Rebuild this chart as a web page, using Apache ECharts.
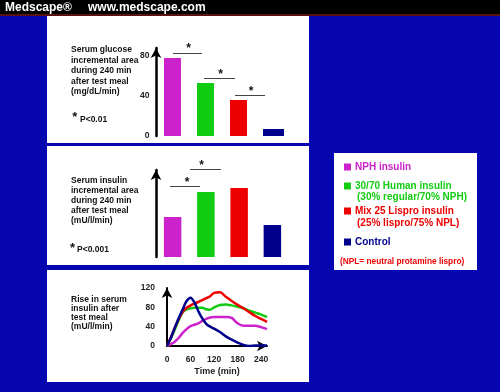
<!DOCTYPE html>
<html><head><meta charset="utf-8">
<script src="https://cdn.jsdelivr.net/npm/echarts@6/dist/echarts.min.js"></script>
<style>html,body{margin:0;padding:0;background:#0606b0}#c{width:500px;height:392px}</style>
</head><body><div id="c"></div>
<script>
// ---- data ----
const treatments = ['NPH insulin', '30/70 Human insulin', 'Mix 25 Lispro insulin', 'Control'];
const treatmentNotes = ['', '(30% regular/70% NPH)', '(25% lispro/75% NPL)', ''];
const colors = ['#cc22cc', '#11cc11', '#ee0000', '#00008c'];
const glucoseArea = [78, 53, 36, 7];     // mg/dL/min (panel 1)
const insulinArea = [40, 65, 69, 32];    // mU/l/min (panel 2, relative)
const glucoseTicks = [0, 40, 80];
const timeMin = [0, 10, 20, 30, 40, 50, 60, 70, 80, 90, 100, 110, 120, 135, 150, 165, 180, 195, 210, 225, 240, 255];
const timeTicks = [0, 60, 120, 180, 240];
const riseNPH     = [0, 4, 9, 17, 27, 35, 41, 44, 47, 52, 56, 59, 60, 60, 60, 58, 47, 42, 42, 42, 39, 35];
const riseHuman   = [0, 16, 34, 54, 70, 76, 78, 79, 79, 79, 76, 75, 80, 85, 86, 84, 81, 78, 73, 69, 65, 60];
const riseLispro  = [0, 18, 38, 56, 71, 79, 84, 88, 91, 95, 99, 103, 110, 111, 102, 93, 85, 78, 70, 62, 56, 50];
const riseControl = [0, 17, 38, 58, 76, 93, 100, 90, 72, 57, 46, 40, 36, 29, 20, 13, 7, 2, 0, 1, 1, 1];
const riseTicks = [0, 40, 80, 120];

// ---- chart ----
const FONT = '"Liberation Sans", Arial, sans-serif';
const chart = echarts.init(document.getElementById('c'), null, {renderer: 'canvas'});

function txt(text, x, y, size, color, align, extra) {
  return Object.assign({type: 'text', z: 50, style: {text: text, x: x, y: y, fill: color || '#111',
    font: 'bold ' + size + 'px ' + FONT, textAlign: align || 'left', textVerticalAlign: 'middle'}}, extra || {});
}
function line(x1, y1, x2, y2) {
  return {type: 'line', z: 50, shape: {x1: x1, y1: y1, x2: x2, y2: y2}, style: {stroke: '#444', lineWidth: 1}};
}
const g = [];
// header
g.push({type: 'rect', z: -10, shape: {x: 0, y: 0, width: 500, height: 14}, style: {fill: '#000'}});
g.push({type: 'rect', z: -10, shape: {x: 0, y: 14, width: 500, height: 2}, style: {fill: '#5a1212'}});
g.push(txt('Medscape\u00AE', 5, 7.5, 12, '#fff'));
g.push(txt('www.medscape.com', 88, 7.5, 12, '#fff'));
// panels
[[47, 16, 262, 127], [47, 146, 262, 119], [47, 270, 262, 112], [334, 153, 143, 117]].forEach(function (r) {
  g.push({type: 'rect', z: -10, shape: {x: r[0], y: r[1], width: r[2], height: r[3]}, style: {fill: '#fff'}});
});
// panel 1 text
['Serum glucose', 'incremental area', 'during 240 min', 'after test meal', '(mg/dL/min)'].forEach(function (s, i) {
  g.push(txt(s, 71, 50 + i * 10.4, 8.5));
});
g.push(txt('*', 74.7, 117.5, 13, '#111', 'center'));
g.push(txt('P<0.01', 80, 119.3, 8.5));
// panel 1 significance
g.push(line(173, 53.5, 202, 53.5)); g.push(txt('*', 188.7, 49, 12, '#111', 'center'));
g.push(line(204, 78.5, 235, 78.5)); g.push(txt('*', 220.5, 74.7, 12, '#111', 'center'));
g.push(line(235, 95.5, 265, 95.5)); g.push(txt('*', 251, 91.3, 12, '#111', 'center'));
// panel 2 text
['Serum insulin', 'incremental area', 'during 240 min', 'after test meal', '(mU/l/min)'].forEach(function (s, i) {
  g.push(txt(s, 71, 180.7 + i * 10.1, 8.5));
});
g.push(txt('*', 72.5, 248, 13, '#111', 'center'));
g.push(txt('P<0.001', 77, 249.5, 8.5));
g.push(line(170, 186.5, 200, 186.5)); g.push(txt('*', 187.2, 182.5, 12, '#111', 'center'));
g.push(line(190, 169.5, 221, 169.5)); g.push(txt('*', 201.7, 166, 12, '#111', 'center'));
// panel 3 text
['Rise in serum', 'insulin after', 'test meal', '(mU/l/min)'].forEach(function (s, i) {
  g.push(txt(s, 71, 299.3 + i * 9, 8.5));
});
// legend box
const legY = [[167], [186, 197.5], [211, 223], [242]];
treatments.forEach(function (name, i) {
  g.push({type: 'rect', z: 50, shape: {x: 344, y: legY[i][0] - 3.5, width: 7, height: 7}, style: {fill: colors[i]}});
  g.push(txt(name, 355, legY[i][0], 10, colors[i]));
  if (treatmentNotes[i]) g.push(txt(treatmentNotes[i], 357, legY[i][1], 10, colors[i]));
});
g.push(txt('(NPL= neutral protamine lispro)', 340, 262, 8.3, '#ee0000'));

const axisLineStyle = {show: true, symbol: ['none', 'arrow'], symbolSize: [8, 10], lineStyle: {color: '#000', width: 2.5}};
function tickFmt(ticks) { return function (v) { return ticks.indexOf(v) >= 0 ? String(v) : ''; }; }
const labStyle = {fontFamily: FONT, fontWeight: 'bold', fontSize: 8.5, color: '#222'};

function barData(vals) { return vals.map(function (v, i) { return {value: v, itemStyle: {color: colors[i]}}; }); }
const g1 = barData(glucoseArea);
const g1main = g1.map(function (d, i) { return i < 3 ? d : '-'; });
const g1ctrl = g1.map(function (d, i) { return i === 3 ? d : '-'; });

const lineSeries = [riseNPH, riseHuman, riseLispro, riseControl].map(function (arr, i) {
  return {type: 'line', name: treatments[i], xAxisIndex: 2, yAxisIndex: 2, showSymbol: false, smooth: 0.3,
    lineStyle: {width: 2.5, color: colors[i]}, itemStyle: {color: colors[i]}, z: 3 + (i === 3 ? 1 : 0),
    data: timeMin.map(function (t, k) { return [t, arr[k]]; })};
});

chart.setOption({
  backgroundColor: '#0606b0',
  animation: false,
  graphic: {elements: g},
  grid: [
    {left: 156, top: 48, width: 132, height: 88},
    {left: 156, top: 170, width: 133, height: 87},
    {left: 167, top: 288, width: 100, height: 58}
  ],
  xAxis: [
    {gridIndex: 0, type: 'category', data: treatments, axisLine: {show: false}, axisTick: {show: false}, axisLabel: {show: false}},
    {gridIndex: 1, type: 'category', data: treatments, axisLine: {show: false}, axisTick: {show: false}, axisLabel: {show: false}},
    {gridIndex: 2, type: 'value', min: 0, max: 255, interval: 60, offset: 4,
      axisLine: Object.assign({}, axisLineStyle, {lineStyle: {color: '#000', width: 2}}), axisTick: {show: false}, splitLine: {show: false},
      axisLabel: Object.assign({margin: 5, formatter: tickFmt(timeTicks)}, labStyle),
      name: 'Time (min)', nameLocation: 'middle', nameGap: 17.5,
      nameTextStyle: {fontFamily: FONT, fontWeight: 'bold', fontSize: 9, color: '#222'}}
  ],
  yAxis: [
    {gridIndex: 0, type: 'value', min: 0, max: 88, interval: 40, axisLine: axisLineStyle, axisTick: {show: false}, splitLine: {show: false},
      axisLabel: Object.assign({margin: 6.5, padding: [0, 0, 6, 0], formatter: tickFmt(glucoseTicks)}, labStyle)},
    {gridIndex: 1, type: 'value', min: 0, max: 87, axisLine: axisLineStyle, axisTick: {show: false}, splitLine: {show: false}, axisLabel: {show: false}},
    {gridIndex: 2, type: 'value', min: 0, max: 120, interval: 40, axisLine: Object.assign({}, axisLineStyle, {lineStyle: {color: '#000', width: 2}}), axisTick: {show: false}, splitLine: {show: false},
      axisLabel: Object.assign({margin: 12, padding: [0, 0, 6, 0], formatter: tickFmt(riseTicks)}, labStyle)}
  ],
  series: [
    {type: 'bar', xAxisIndex: 0, yAxisIndex: 0, barWidth: 21, barGap: '-100%', data: g1ctrl},
    {type: 'bar', xAxisIndex: 0, yAxisIndex: 0, barWidth: 17, barGap: '-100%', data: g1main},
    {type: 'bar', xAxisIndex: 1, yAxisIndex: 1, barWidth: 17.5, data: barData(insulinArea)}
  ].concat(lineSeries)
});
</script></body></html>
